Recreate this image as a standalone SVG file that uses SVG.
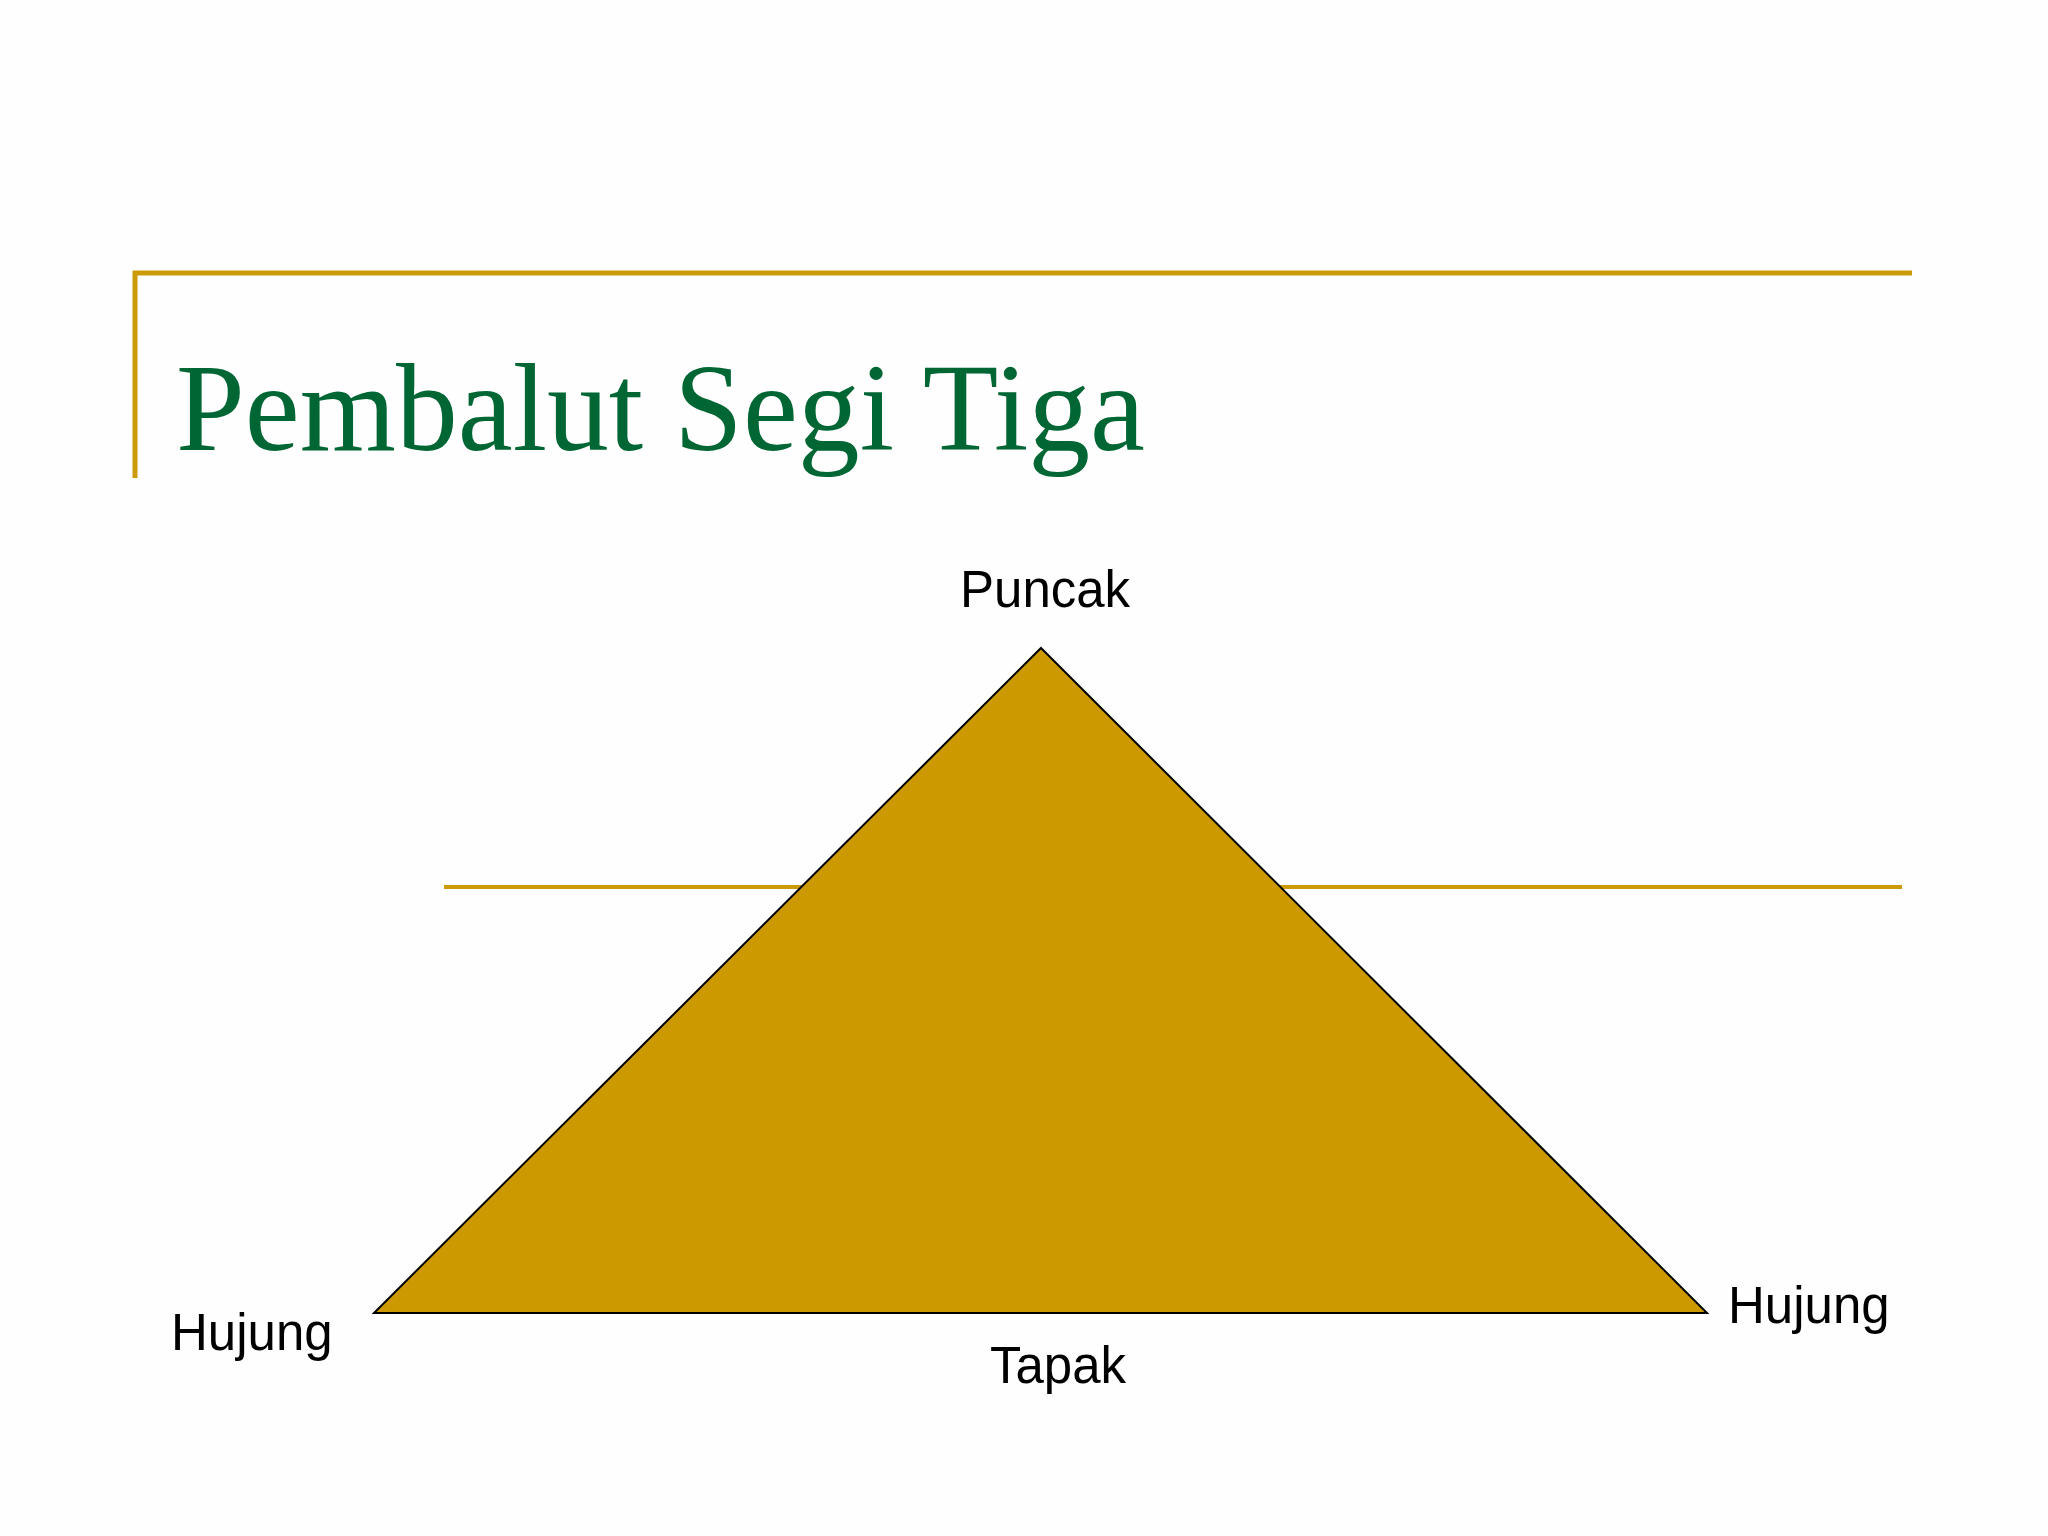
<svg xmlns="http://www.w3.org/2000/svg" width="2048" height="1536" viewBox="0 0 2048 1536">
<style>
.gold{stroke:#CC9A06;stroke-linecap:butt;fill:none}
.lbl{font-family:"Liberation Sans",Arial,sans-serif;font-size:51px;fill:#000}
</style>
<rect width="2048" height="1536" fill="#FEFEFE"/>
<g id="frame">
<line class="gold" x1="133" y1="273" x2="1912" y2="273" stroke-width="5"/>
<line class="gold" x1="135" y1="271" x2="135" y2="478" stroke-width="5"/>
<line class="gold" x1="444" y1="887" x2="1902" y2="887" stroke-width="4"/>
</g>
<g id="title">
<text x="176" y="450" font-family="'Liberation Serif','Times New Roman',serif" font-size="124" fill="#006633" textLength="969" lengthAdjust="spacingAndGlyphs">Pembalut Segi Tiga</text>
</g>
<g id="triangle">
<polygon points="1041,648 1707,1313 374,1313" fill="#CC9900" stroke="#000" stroke-width="2" stroke-linejoin="miter"/>
</g>
<g id="labels">
<text class="lbl" x="960" y="607">Puncak</text>
<text class="lbl" x="171" y="1350">Hujung</text>
<text class="lbl" x="1728" y="1323">Hujung</text>
<text class="lbl" x="990" y="1383">Tapak</text>
</g>
</svg>
